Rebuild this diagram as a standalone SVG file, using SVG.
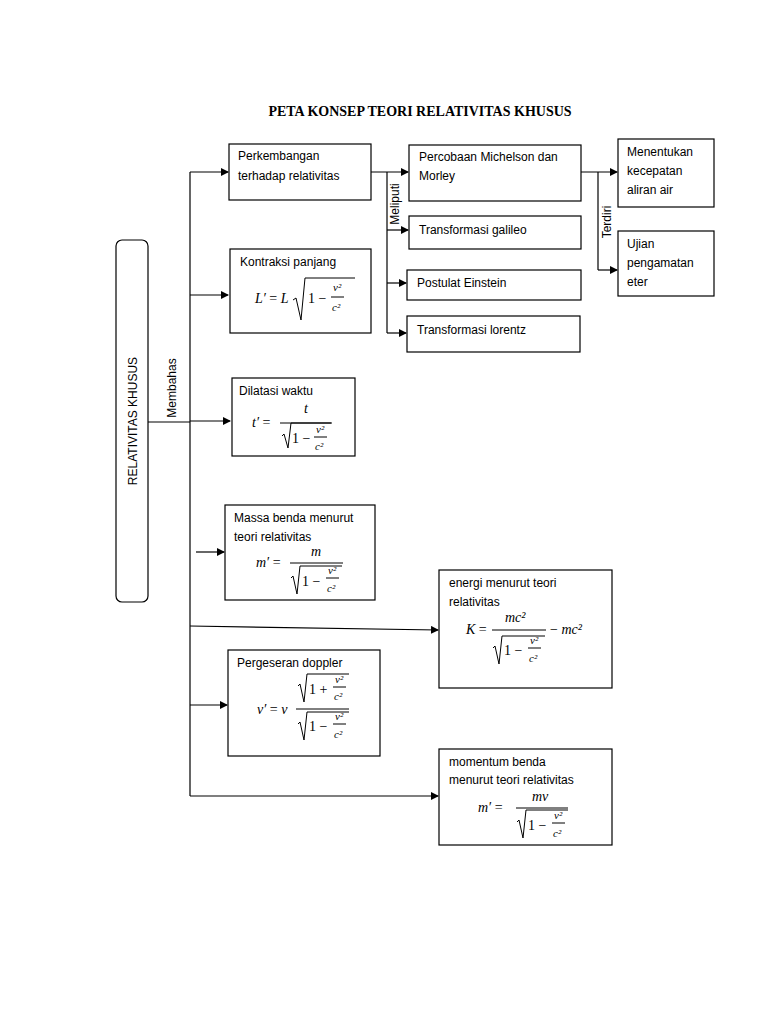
<svg xmlns="http://www.w3.org/2000/svg" width="768" height="1024" viewBox="0 0 768 1024">
<style>
.b{fill:#fff;stroke:#000;stroke-width:1.2}
.t{font-family:"Liberation Sans",Arial,sans-serif;font-size:12px;fill:#000}
.m{font-family:"Liberation Serif","Times New Roman",serif;font-size:14px;font-style:italic;fill:#000}
.s{font-family:"Liberation Serif","Times New Roman",serif;font-size:11px;font-style:italic;fill:#000}
.n{font-style:normal}
.l{stroke:#000;stroke-width:1.2;fill:none}
.r{stroke:#000;stroke-width:1;fill:none}
</style>
<defs><marker id="a" markerWidth="8" markerHeight="8" refX="7" refY="4" orient="auto" markerUnits="userSpaceOnUse"><path d="M0,0L8,4L0,8z" fill="#000"/></marker></defs>
<text x="420" y="116" text-anchor="middle" font-family="Liberation Serif,serif" font-weight="bold" font-size="14">PETA KONSEP TEORI RELATIVITAS KHUSUS</text>
<g id="connectors">
<path class="l" d="M148,422H190M190,172V796"/>
<path class="l" marker-end="url(#a)" d="M190,172H228"/>
<path class="l" marker-end="url(#a)" d="M190,295H228"/>
<path class="l" marker-end="url(#a)" d="M190,421H230"/>
<path class="l" marker-end="url(#a)" d="M196,552H224"/>
<path class="l" marker-end="url(#a)" d="M190,626L438,630"/>
<path class="l" marker-end="url(#a)" d="M190,705H227"/>
<path class="l" marker-end="url(#a)" d="M190,796H438"/>
<text class="t" transform="translate(176,388) rotate(-90)" text-anchor="middle">Membahas</text>
<path class="l" marker-end="url(#a)" d="M371,172H408"/>
<path class="l" d="M387,172V333"/>
<path class="l" marker-end="url(#a)" d="M387,230H408"/>
<path class="l" marker-end="url(#a)" d="M387,283H406"/>
<path class="l" marker-end="url(#a)" d="M387,333H406"/>
<text class="t" transform="translate(399,204) rotate(-90)" text-anchor="middle">Meliputi</text>
<path class="l" marker-end="url(#a)" d="M581,172H617"/>
<path class="l" d="M598,172V270"/>
<path class="l" marker-end="url(#a)" d="M598,270H617"/>
<text class="t" transform="translate(611,222) rotate(-90)" text-anchor="middle">Terdiri</text>
</g>
<g id="relativitas-khusus"><rect class="b" x="116" y="240" width="32" height="362" rx="6"/>
<text class="t" transform="translate(137,421) rotate(-90)" text-anchor="middle">RELATIVITAS KHUSUS</text></g>
<g id="perkembangan"><rect class="b" x="229" y="144" width="142" height="56"/>
<text class="t" x="238" y="160">Perkembangan</text><text class="t" x="238" y="180">terhadap relativitas</text></g>
<g id="kontraksi"><rect class="b" x="230" y="249" width="141" height="84"/>
<text class="t" x="240" y="266">Kontraksi panjang</text>
<text class="m" x="255" y="303">L′ <tspan class="n">=</tspan> L</text>
<path class="r" d="M293,300l3,-2l5,22l4,-42h50"/>
<text class="m n" x="308" y="303">1 −</text>
<text class="s" x="333" y="291">v²</text><path class="r" d="M331,297h13"/><text class="s" x="332" y="311">c²</text></g>
<g id="dilatasi"><rect class="b" x="232" y="378" width="123" height="78"/>
<text class="t" x="239" y="395">Dilatasi waktu</text>
<text class="m" x="252" y="427">t′ <tspan class="n">=</tspan></text>
<text class="m" x="304" y="413">t</text>
<path class="r" d="M280,423h52"/>
<path class="r" d="M282,436l2,-2l4,14l3,-25h40"/>
<text class="m n" x="292" y="443">1 −</text>
<text class="s" x="316" y="433">v²</text><path class="r" d="M314,437h13"/><text class="s" x="315" y="450">c²</text></g>
<g id="massa"><rect class="b" x="225" y="505" width="150" height="95"/>
<text class="t" x="234" y="522">Massa benda menurut</text><text class="t" x="234" y="541">teori relativitas</text>
<text class="m" x="256" y="567">m′ <tspan class="n">=</tspan></text>
<text class="m" x="311" y="556">m</text>
<path class="r" d="M290,563h53"/>
<path class="r" d="M291,578l2,-2l4,18l3,-28h42"/>
<text class="m n" x="302" y="586">1 −</text>
<text class="s" x="328" y="574">v²</text><path class="r" d="M326,578h13"/><text class="s" x="327" y="592">c²</text></g>
<g id="energi"><rect class="b" x="439" y="570" width="173" height="118"/>
<text class="t" x="449" y="587">energi menurut teori</text><text class="t" x="449" y="606">relativitas</text>
<text class="m" x="466" y="634">K <tspan class="n">=</tspan></text>
<text class="m" x="505" y="622">mc²</text>
<path class="r" d="M492,630h54"/>
<text class="m" x="550" y="634"><tspan class="n">−</tspan> mc²</text>
<path class="r" d="M493,648l2,-2l4,18l3,-28h43"/>
<text class="m n" x="504" y="655">1 −</text>
<text class="s" x="530" y="644">v²</text><path class="r" d="M528,648h13"/><text class="s" x="529" y="662">c²</text></g>
<g id="doppler"><rect class="b" x="228" y="650" width="152" height="106"/>
<text class="t" x="237" y="667">Pergeseran doppler</text>
<text class="m" x="257" y="714">v′ <tspan class="n">=</tspan> v</text>
<path class="r" d="M298,686l2,-2l4,18l3,-28h42"/>
<text class="m n" x="309" y="694">1 +</text>
<text class="s" x="335" y="683">v²</text><path class="r" d="M333,687h13"/><text class="s" x="334" y="700">c²</text>
<path class="r" d="M296,709h53"/>
<path class="r" d="M298,724l2,-2l4,18l3,-28h42"/>
<text class="m n" x="309" y="731">1 −</text>
<text class="s" x="335" y="720">v²</text><path class="r" d="M333,724h13"/><text class="s" x="334" y="738">c²</text></g>
<g id="momentum"><rect class="b" x="439" y="749" width="173" height="96"/>
<text class="t" x="449" y="766">momentum benda</text><text class="t" x="449" y="784">menurut teori relativitas</text>
<text class="m" x="478" y="812">m′ <tspan class="n">=</tspan></text>
<text class="m" x="532" y="801">mv</text>
<path class="r" d="M516,808h52"/>
<path class="r" d="M517,822l2,-2l4,18l3,-28h42"/>
<text class="m n" x="528" y="830">1 −</text>
<text class="s" x="554" y="819">v²</text><path class="r" d="M552,823h13"/><text class="s" x="553" y="837">c²</text></g>
<g id="michelson"><rect class="b" x="409" y="145" width="172" height="56"/>
<text class="t" x="419" y="161">Percobaan Michelson dan</text><text class="t" x="419" y="180">Morley</text></g>
<g id="galileo"><rect class="b" x="409" y="216" width="172" height="33"/><text class="t" x="419" y="234">Transformasi galileo</text></g>
<g id="postulat"><rect class="b" x="407" y="270" width="174" height="30"/><text class="t" x="417" y="287">Postulat Einstein</text></g>
<g id="lorentz"><rect class="b" x="407" y="316" width="173" height="36"/><text class="t" x="417" y="334">Transformasi lorentz</text></g>
<g id="kecepatan"><rect class="b" x="618" y="139" width="96" height="68"/>
<text class="t" x="627" y="156">Menentukan</text><text class="t" x="627" y="175">kecepatan</text><text class="t" x="627" y="194">aliran air</text></g>
<g id="eter"><rect class="b" x="618" y="231" width="96" height="65"/>
<text class="t" x="627" y="248">Ujian</text><text class="t" x="627" y="267">pengamatan</text><text class="t" x="627" y="286">eter</text></g>
</svg>
